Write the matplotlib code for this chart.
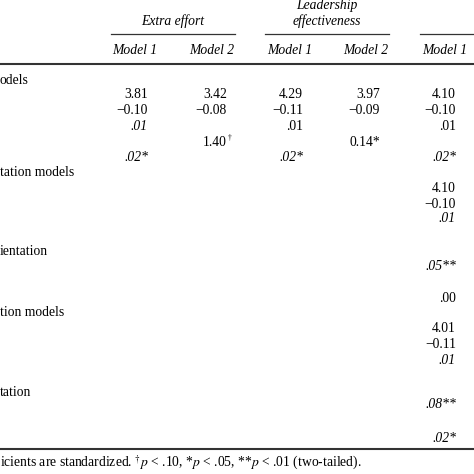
import matplotlib.pyplot as plt

plt.rcParams["font.family"] = ["Liberation Serif", "DejaVu Serif"]
plt.rcParams["mathtext.fontset"] = "stix"

W = H = 474
# column right edges (data columns) and header centres
COL_RIGHT = [148, 227, 303, 380, 456]
COL_CENTER = [135, 212, 290, 366, 445]

group_headers = [("Extra effort", 173, 21), ("Leadership", 327, 5), ("effectiveness", 327, 21)]
model_labels = ["Model 1", "Model 2", "Model 1", "Model 2", "Model 1"]

section_labels = [
    ("odels", 81), ("tation models", 173), ("ientation", 252),
    ("tion models", 313), ("tation", 392),
]

# (row y, column index, text, italic)
cells = [
    (95, 0, "3.81", False), (95, 1, "3.42", False), (95, 2, "4.29", False),
    (95, 3, "3.97", False), (95, 4, "4.10", False),
    (111, 0, "\u22120.10", False), (111, 1, "\u22120.08", False), (111, 2, "\u22120.11", False),
    (111, 3, "\u22120.09", False), (111, 4, "\u22120.10", False),
    (126, 0, ".01", True), (126, 2, ".01", False), (126, 4, ".01", False),
    (142, 1, "1.40", False), (142, 3, "0.14*", False),
    (158, 0, ".02*", True), (158, 2, ".02*", True), (158, 4, ".02*", True),
    (188, 4, "4.10", False), (204, 4, "\u22120.10", False), (219, 4, ".01", True),
    (267, 4, ".05**", True), (298, 4, ".00", False),
    (328, 4, "4.01", False), (344, 4, "\u22120.11", False), (360, 4, ".01", True),
    (405, 4, ".08**", True), (438, 4, ".02*", True),
]

footnote = "icients are standardized. $^{\\dagger}$$p$ < .10, *$p$ < .05, **$p$ < .01 (two-tailed)."

FS = 9.8
fig = plt.figure(figsize=(W / 100, H / 100), dpi=100)


def px(x, y):
    return x / W, 1 - y / H


def line(x0, x1, y, lw):
    fig.add_artist(plt.Line2D([x0 / W, x1 / W], [1 - y / H] * 2, color="#333333", lw=lw))


for text, x, y in group_headers:
    fig.text(*px(x, y), text, ha="center", va="center", fontsize=FS, style="italic")
line(111, 235, 34, 0.9)
line(265, 389, 34, 0.9)
line(420, 474, 34, 0.9)
for label, x in zip(model_labels, COL_CENTER):
    fig.text(*px(x, 51), label, ha="center", va="center", fontsize=FS, style="italic")
line(0, 474, 64, 1.5)

for text, y in section_labels:
    fig.text(*px(0, y), text, ha="left", va="center", fontsize=FS)

for y, c, text, it in cells:
    fig.text(*px(COL_RIGHT[c], y), text, ha="right", va="center", fontsize=FS,
             style="italic" if it else "normal")
fig.text(*px(COL_RIGHT[1] + 1, 138), "\u2020", ha="left", va="center", fontsize=5.5)

line(0, 474, 449, 1.5)
fig.text(*px(0, 463), footnote, ha="left", va="center", fontsize=FS)

fig.savefig("out.png", dpi=100)
